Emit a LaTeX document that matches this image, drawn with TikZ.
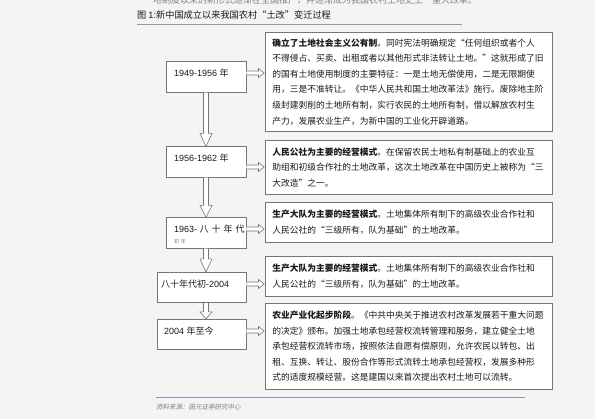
\documentclass[tikz,border=0pt]{standalone}
\usepackage{fontspec}
\setmainfont{Noto Sans CJK SC}
\newfontfamily\lat{Liberation Sans}
\newfontfamily\cjkslant[FakeSlant=0.2]{Noto Sans CJK SC}
\usetikzlibrary{calc}
\definecolor{bg}{RGB}{244,244,244}
\definecolor{frame}{RGB}{118,118,118}
\definecolor{rulec}{RGB}{140,150,185}
\definecolor{ink}{RGB}{25,25,25}
\newcommand\hdown[3]{%
  \path[hol] let \p1=(#1), \p2=(#2) in
    (\x1-2.5pt,\y1) -- (\x1-2.5pt,\y2+#3) -- (\x1-6pt,\y2+#3) -- (\x1,\y2)
    -- (\x1+6pt,\y2+#3) -- (\x1+2.5pt,\y2+#3) -- (\x1+2.5pt,\y1);}
\newcommand\hright[2]{%
  \path[hol] let \p1=(#1), \p2=(#2) in
    (\x1,\y1+2pt) -- (\x2-6.5pt,\y1+2pt) -- (\x2-6.5pt,\y1+4.5pt) -- (\x2-0.8pt,\y1)
    -- (\x2-6.5pt,\y1-4.5pt) -- (\x2-6.5pt,\y1-2pt) -- (\x1,\y1-2pt);}
\begin{document}
\begin{tikzpicture}[x=1pt,y=1pt,
  lbox/.style={draw=frame, fill=white, line width=0.6pt, minimum height=30.5pt, inner sep=0pt},
  rbox/.style={draw=frame, fill=white, line width=0.7pt, inner xsep=7pt, inner ysep=0pt,
    text width=273pt, align=left, text=ink, font=\fontsize{8.75}{15.6}\selectfont},
  ltxt/.style={anchor=west, inner sep=0pt, text=ink, font=\fontsize{9}{11}\selectfont},
  hol/.style={draw=frame, fill=white, line width=0.6pt, line join=miter}
]
\useasboundingbox[fill=bg] (0,0) rectangle (595,-419);

% cut-off last line of the preceding paragraph (cut at the top edge, as in the reference)
\node[anchor=base west, inner sep=0pt, text=gray, font=\fontsize{9}{9}\selectfont] (prev) at (153,-3.3)
  {地制度以来的新形式逐渐在全国推广，并逐渐成为我国农村土地史上一重大改革。};

% title
\node[anchor=base west, inner sep=0pt, text=ink, font=\fontsize{9.2}{9}\selectfont] (title) at (137,-19)
  {图 {\lat 1:}新中国成立以来我国农村“土改”变迁过程};
\draw[rulec, line width=0.8pt] (137,-24.2) -- (462,-24.2);

% left boxes
\node[lbox, minimum width=80pt] (A) at (206,-77) {};
\node[lbox, minimum width=80pt] (B) at (206,-162) {};
\node[lbox, minimum width=80pt] (C) at (206,-233) {};
\node[lbox, minimum width=89pt] (D) at (201.5,-287.5) {};
\node[lbox, minimum width=89pt] (E) at (201.5,-334.5) {};

\node[ltxt] (At) at (174,-73) {{\lat 1949-1956 }年};
\node[ltxt] (Bt) at (174,-158) {{\lat 1956-1962 }年};
\node[ltxt] (Ct) at (174,-229) {{\lat 1963- }八\,\,十\,\,年\,\,代};
\node[ltxt, font=\fontsize{5}{6}\selectfont, text=gray] (Ct2) at (174,-241.5) {初\,\,年};
\node[ltxt] (Dt) at (161,-284) {八十年代初{\lat -2004}};
\node[ltxt] (Et) at (164,-331) {{\lat 2004 }年至今};

% right boxes
\node[rbox, minimum height=99pt, anchor=north west] (r1) at (265,-32) {%
\textbf{确立了土地社会主义公有制}。同时宪法明确规定“任何组织或者个人\\
不得侵占、买卖、出租或者以其他形式非法转让土地。”这就形成了旧\\
的国有土地使用制度的主要特征：一是土地无偿使用，二是无限期使\\
用，三是不准转让。《中华人民共和国土地改革法》施行。废除地主阶\\
级封建剥削的土地所有制，实行农民的土地所有制，借以解放农村生\\
产力，发展农业生产，为新中国的工业化开辟道路。};

\node[rbox, minimum height=54pt, anchor=north west] (r2) at (265,-140) {%
\textbf{人民公社为主要的经营模式}。在保留农民土地私有制基础上的农业互\\
助组和初级合作社的土地改革，这次土地改革在中国历史上被称为“三\\
大改造”之一。};

\node[rbox, minimum height=40pt, anchor=north west] (r3) at (265,-202) {%
\textbf{生产大队为主要的经营模式}。土地集体所有制下的高级农业合作社和\\
人民公社的“三级所有，队为基础”的土地改革。};

\node[rbox, minimum height=40pt, anchor=north west] (r4) at (265,-256) {%
\textbf{生产大队为主要的经营模式}。土地集体所有制下的高级农业合作社和\\
人民公社的“三级所有，队为基础”的土地改革。};

\node[rbox, minimum height=86pt, anchor=north west] (r5) at (265,-303) {%
\textbf{农业产业化起步阶段}。《中共中央关于推进农村改革发展若干重大问题\\
的决定》颁布。加强土地承包经营权流转管理和服务，建立健全土地\\
承包经营权流转市场，按照依法自愿有偿原则，允许农民以转包、出\\
租、互换、转让、股份合作等形式流转土地承包经营权，发展多种形\\
式的适度规模经营。这是建国以来首次提出农村土地可以流转。};

% hollow arrows down
\hdown{A.south}{B.north}{13pt}
\hdown{B.south}{C.north}{12pt}
\hdown{C.south}{C.south |- D.north}{13pt}
\hdown{C.south |- D.south}{C.south |- E.north}{7pt}

% hollow arrows right
\hright{[yshift=4pt]A.east}{r1.west}
\hright{[yshift=-5pt]B.east}{r2.west}
\hright{[yshift=4pt]C.east}{r3.west}
\hright{[yshift=3.5pt]D.east}{r4.west}
\hright{[yshift=3.5pt]E.east}{r5.west}

% source
\draw[rulec, line width=0.8pt] (156,-397) -- (525,-397);
\node[anchor=base west, inner sep=0pt, text=gray, font=\fontsize{6.5}{7}\selectfont\cjkslant] (src) at (156,-409.5)
  {资料来源：国元证券研究中心};
\end{tikzpicture}
\end{document}
